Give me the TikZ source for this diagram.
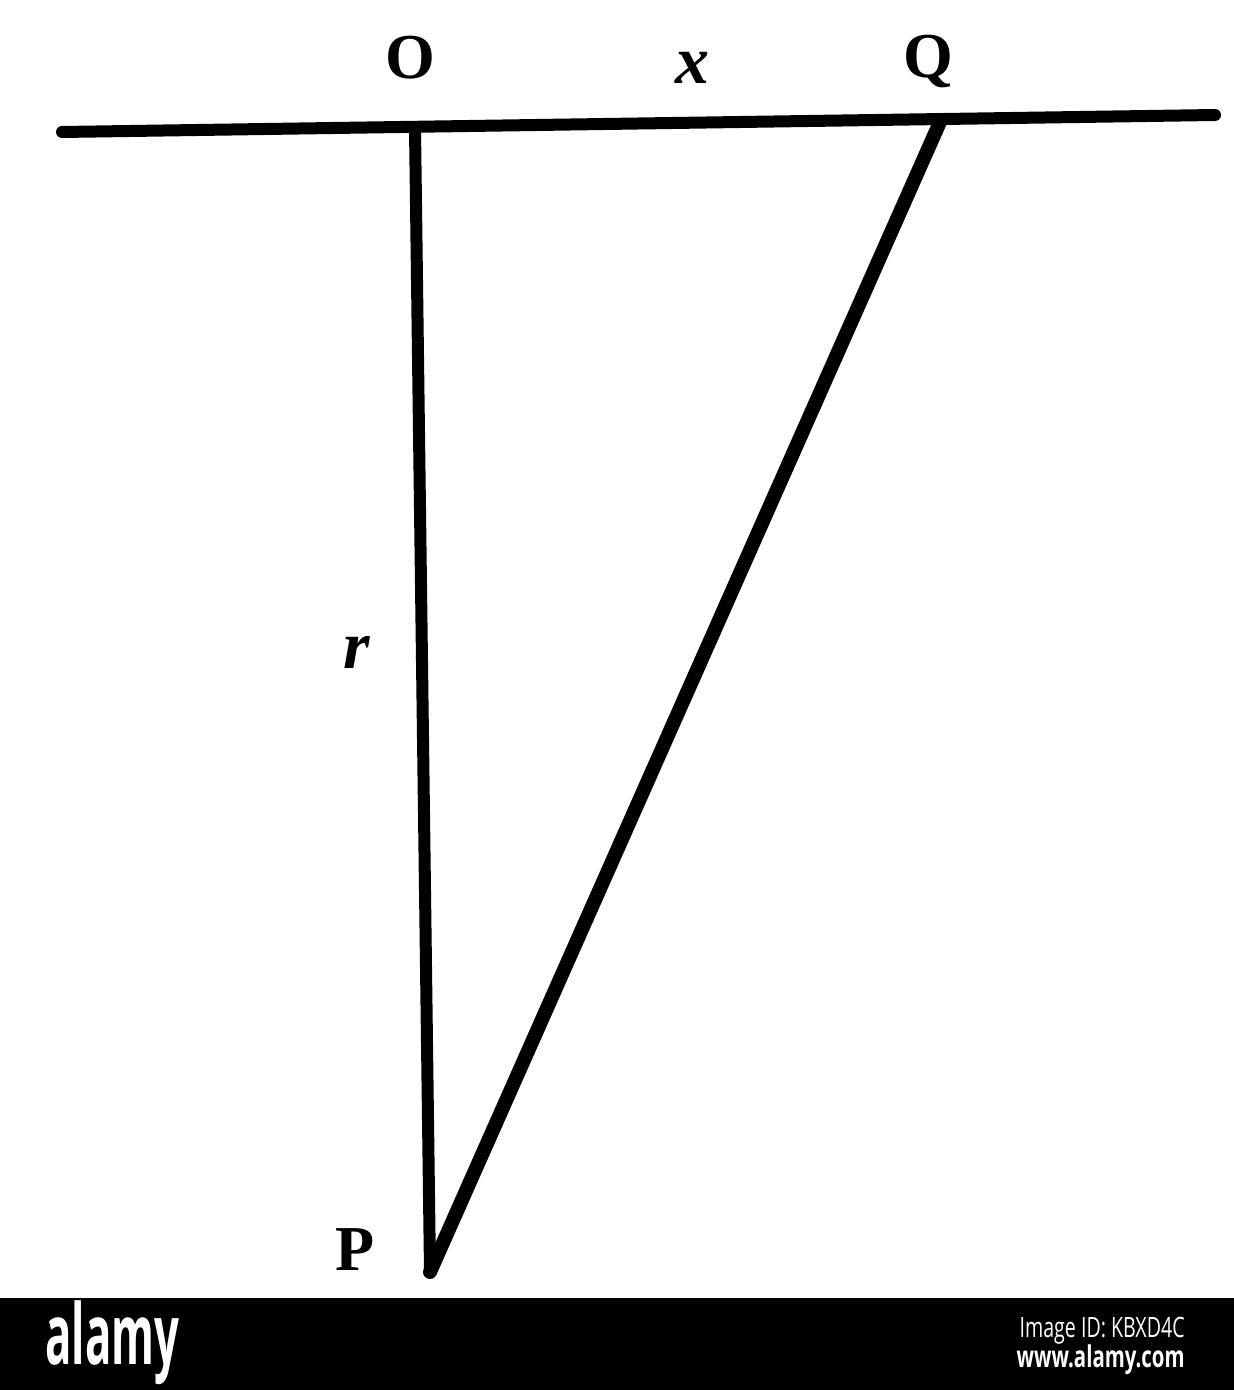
\documentclass[tikz,border=0pt]{standalone}
\usepackage{fontspec}
\setmainfont{Liberation Serif}
\newfontfamily\barfont{Open Sans}
\begin{document}
\begin{tikzpicture}[x=0.5pt,y=-0.5pt,
  lbl/.style={font=\fontsize{32}{36}\selectfont\bfseries, inner sep=0pt},
  ilbl/.style={font=\fontsize{34}{38}\selectfont\bfseries\itshape, inner sep=0pt},
  edge/.style={line width=6pt, line cap=round, black}]
\useasboundingbox (0,0) rectangle (1234,1390);
\fill[white] (0,0) rectangle (1234,1298);
\fill[black] (0,1298) rectangle (1234,1390);
% points
\coordinate (L) at (62,132);
\coordinate (R) at (1215,115);
\coordinate (O) at (415,128);
\coordinate (Q) at (940,122);
\coordinate (P) at (430,1272);
% lines
\draw[edge] (L) -- (R);
\draw[edge] (O) -- (P);
\draw[edge, line width=7pt] (Q) -- (P);
% labels
\node[lbl] (lO) at (410,58) {O};
\node[lbl] (lQ) at (928,62) {Q};
\node[ilbl] (lx) at (692,68) {x};
\node[ilbl] (lr) at (357,652) {r};
\node[lbl] (lP) at (355,1250) {P};
% stock bar
\node[font=\barfont\bfseries\fontsize{42}{46}\selectfont, text=white, inner sep=0pt, anchor=west] (brand) at (45,1343) {\scalebox{0.52}[1]{alamy}};
\node[font=\barfont\fontsize{14}{17}\selectfont, text=white, inner sep=0pt, anchor=east] (imgid) at (1185,1331) {\scalebox{0.7}[1]{Image ID: KBXD4C}};
\node[font=\barfont\bfseries\fontsize{15}{18}\selectfont, text=white, inner sep=0pt, anchor=east] (url) at (1185,1360) {\scalebox{0.68}[1]{www.alamy.com}};
\end{tikzpicture}
\end{document}
